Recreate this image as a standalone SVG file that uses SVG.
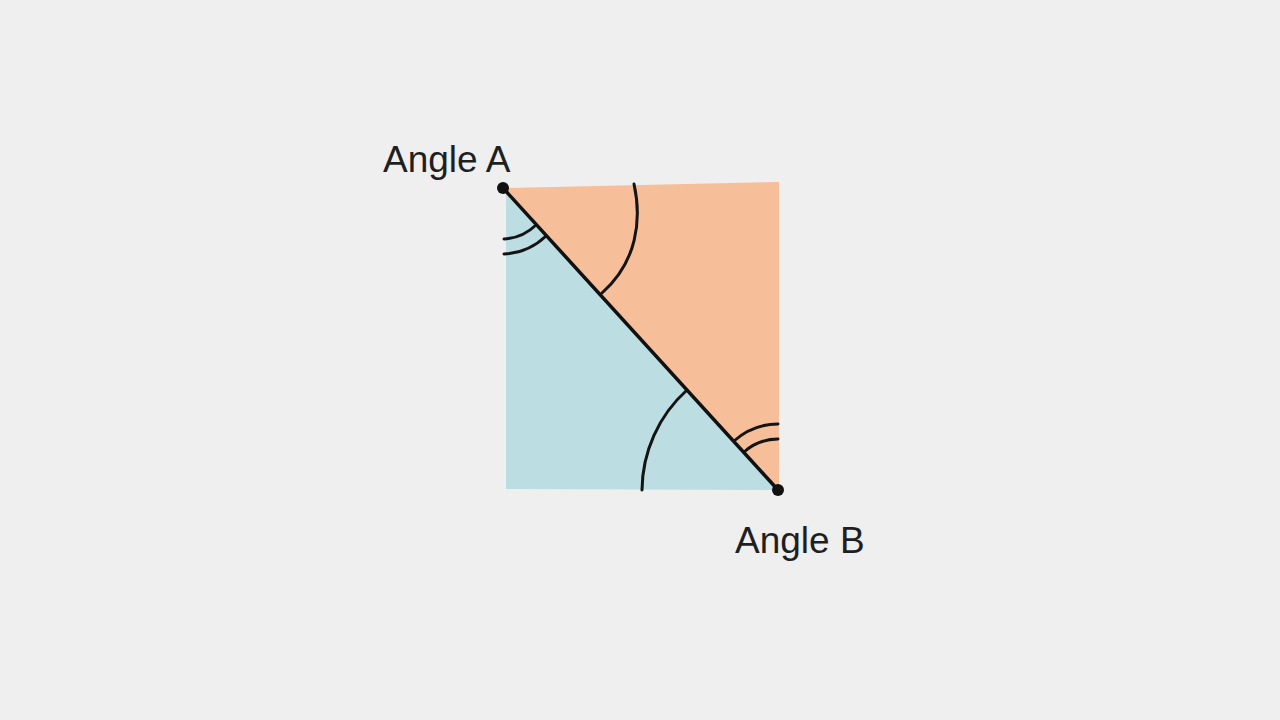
<svg xmlns="http://www.w3.org/2000/svg" width="1280" height="720" viewBox="0 0 1280 720">
  <style>
    .lbl { font-family: "Liberation Sans", Arial, sans-serif; font-size: 37px; fill: #1f1f1f; }
    .arc { fill: none; stroke: #141414; stroke-width: 3; stroke-linecap: round; }
    .diag { stroke: #111; stroke-width: 3.5; stroke-linecap: round; }
  </style>
  <rect width="1280" height="720" fill="#efefef"/>
  <g id="orange-triangle">
    <polygon points="503,188 779,182 779,490" fill="#f7be9a"/>
  </g>
  <g id="blue-triangle">
    <polygon points="503,188 506,190 506,489 778,490" fill="#bcdde1"/>
  </g>
  <g id="arcs">
    <path class="arc" d="M634,184 C642,220 637,262 602,293"/>
    <path class="arc" d="M642,490 A136,136 0 0 1 687,390"/>
    <path class="arc" d="M504,239 A50,50 0 0 0 536,225"/>
    <path class="arc" d="M504,254 A65,65 0 0 0 546,236"/>
    <path class="arc" d="M778,439 A51,51 0 0 0 744,452"/>
    <path class="arc" d="M778,424 A66,66 0 0 0 734,441"/>
  </g>
  <g id="connectors">
    <line class="diag" x1="503" y1="188" x2="778" y2="490"/>
  </g>
  <g id="angle-a">
    <circle cx="503" cy="188" r="6" fill="#111"/>
    <text class="lbl" x="383" y="172">Angle A</text>
  </g>
  <g id="angle-b">
    <circle cx="778" cy="490" r="6" fill="#111"/>
    <text class="lbl" x="735" y="553">Angle B</text>
  </g>
</svg>
